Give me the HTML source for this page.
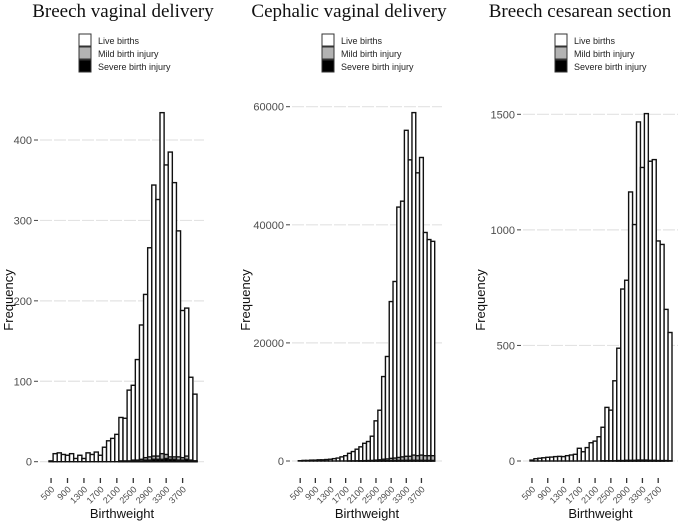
<!DOCTYPE html>
<html><head><meta charset="utf-8"><style>
html,body{margin:0;padding:0;background:#fff;}
svg{display:block;font-family:"Liberation Sans",sans-serif;}
</style></head><body>
<svg id="chart" width="685" height="524" xmlns="http://www.w3.org/2000/svg"></svg>
<script>
const bins = [500,600,700,800,900,1000,1100,1200,1300,1400,1500,1600,1700,1800,1900,2000,2100,2200,2300,2400,2500,2600,2700,2800,2900,3000,3100,3200,3300,3400,3500,3600,3700,3800,3900,4000];
const tickLabels = [500,900,1300,1700,2100,2500,2900,3300,3700];
const titles = ["Breech vaginal delivery","Cephalic vaginal delivery","Breech cesarean section"];
const legendLabels = ["Live births","Mild birth injury","Severe birth injury"];

const breechVagLive = [1,10,11,9,8,10,4,8,4,11,9,12,8,18,26,29,34,55,54,89,95,127,170,208,266,344,326,434,369,385,347,287,188,191,105,84];
const breechVagMild = [0,0,0,0,0,0,0,0,0,0,0,0,0,0,0,0,0,1,1,1,2,2,3,5,6,7,7,10,9,6,6,6,5,7,2,1];
const breechVagSevere = [0,0,0,0,0,0,0,0,0,0,0,0,0,0,0,0,0,0,0,0,1,1,1,2,2,3,3,3,4,3,3,2,2,3,1,1];
const breechVagTicks = [0,100,200,300,400];

const cephVagLive = [50,100,100,150,150,200,200,250,300,400,500,700,900,1300,1600,2000,2400,3000,3300,4200,6800,8600,14300,17700,27000,30400,43000,44000,56000,51000,59000,48800,51400,38700,37500,37200];
const cephVagMild = [0,0,0,0,0,0,0,0,0,0,0,0,0,10,20,30,40,60,80,100,150,200,300,350,450,500,600,700,800,800,1000,900,1000,900,900,900];
const cephVagSevere = [0,0,0,0,0,0,0,0,0,0,0,0,0,0,0,0,10,10,20,20,30,40,50,60,80,90,100,110,120,120,130,120,120,110,100,100];
const cephVagTicks = [0,20000,40000,60000];

const breechCesLive = [4,10,12,14,16,17,19,20,19,23,26,29,55,40,58,79,86,105,146,232,220,347,488,744,782,1164,1023,1467,1270,1503,1297,1304,952,937,656,556];
const breechCesMild = [0,0,0,0,0,0,0,0,0,0,0,0,0,0,0,0,0,0,1,1,1,1,2,2,3,3,3,4,4,4,3,3,2,2,2,1];
const breechCesSevere = [0,0,0,0,0,0,0,0,0,0,0,0,0,0,0,0,0,0,0,0,0,0,1,1,1,1,1,1,1,1,1,1,1,1,0,0];
const breechCesTicks = [0,500,1000,1500];

const NS="http://www.w3.org/2000/svg";
const svg=document.getElementById('chart');
function mk(tag,attrs,parent){const e=document.createElementNS(NS,tag);for(const k in attrs)e.setAttribute(k,attrs[k]);(parent||svg).appendChild(e);return e;}

const panels=[
 {live:breechVagLive,mild:breechVagMild,sev:breechVagSevere,ticks:breechVagTicks,gx0:40,gx1:204,bx0:49,bx1:197,y0:461.7,yTop:140,topVal:400,titleX:123,legX:79,freqX:9,name:'breech-vaginal'},
 {live:cephVagLive,mild:cephVagMild,sev:cephVagSevere,ticks:cephVagTicks,gx0:292,gx1:442,bx0:298.3,bx1:434.7,y0:461,yTop:106.7,topVal:60000,titleX:349,legX:322,freqX:246,name:'cephalic-vaginal'},
 {live:breechCesLive,mild:breechCesMild,sev:breechCesSevere,ticks:breechCesTicks,gx0:523,gx1:678,bx0:530,bx1:672,y0:461,yTop:114.3,topVal:1500,titleX:580,legX:555,freqX:481,name:'breech-cesarean'}
];

panels.forEach((p,pi)=>{
  const g=mk('g',{});
  
  
  const n=bins.length, bw=(p.bx1-p.bx0)/n;
  const yS=v=>p.y0-(v/p.topVal)*(p.y0-p.yTop);
  const xC=v=>p.bx0+bw*((v-bins[0])/100+0.5);
  const t=mk('text',{x:p.titleX,y:17,'text-anchor':'middle','font-family':'"Liberation Serif",serif','font-size':19,fill:'#111'},g);
  t.textContent=titles[pi];
  
  
  const fills=['#fff','#b3b3b3','#000'];
  legendLabels.forEach((lab,i)=>{
    const r=mk('rect',{x:p.legX,y:34+i*13,width:12,height:12,fill:fills[i],stroke:'#333','stroke-width':1},g);
    
    
    const lt=mk('text',{x:p.legX+19,y:44+i*13,'font-size':9,fill:'#222'},g);
    lt.textContent=lab;
    
    
  });
  p.ticks.forEach(v=>{
    const y=yS(v);
    const gl=mk('line',{x1:p.gx0,x2:p.gx1,y1:y,y2:y,stroke:'#e3e3e3','stroke-width':1.2,'stroke-dasharray':'12 2'},g);
    
    
    mk('line',{x1:p.gx0-6,x2:p.gx0-2,y1:y,y2:y,stroke:'#444','stroke-width':1},g);
    const tl=mk('text',{x:p.gx0-8,y:y+4,'text-anchor':'end','font-size':11,fill:'#4d4d4d'},g);
    tl.textContent=v;
    
    
  });
  [[p.live,'#fff'],[p.mild,'#b3b3b3'],[p.sev,'#000']].forEach(([arr,fill],si)=>{
    arr.forEach((v,i)=>{
      const x=xC(bins[i])-bw/2, y=yS(v);
      const b=mk('rect',{x:x,y:y,width:bw,height:Math.max(0,p.y0-y),fill:fill,stroke:'#111','stroke-width':1.4},g);
      
      
    });
  });
  tickLabels.forEach(v=>{
    const x=xC(v);
    mk('line',{x1:x,x2:x,y1:478,y2:483,stroke:'#333','stroke-width':1.3},g);
    const xl=mk('text',{x:x+4,y:490,'text-anchor':'end','font-size':9,fill:'#4d4d4d',transform:`rotate(-45 ${x+4} 490)`},g);
    xl.textContent=v;
    
    
  });
  const xt=mk('text',{x:(p.gx0+p.gx1)/2,y:518,'text-anchor':'middle','font-size':13,fill:'#111'},g);
  xt.textContent='Birthweight';
  
  
  const yt=mk('text',{x:p.freqX,y:300,'text-anchor':'middle','font-size':13,fill:'#111',transform:`rotate(-90 ${p.freqX} 300)`,dy:4},g);
  yt.textContent='Frequency';
  
  
});
</script>
</body></html>
